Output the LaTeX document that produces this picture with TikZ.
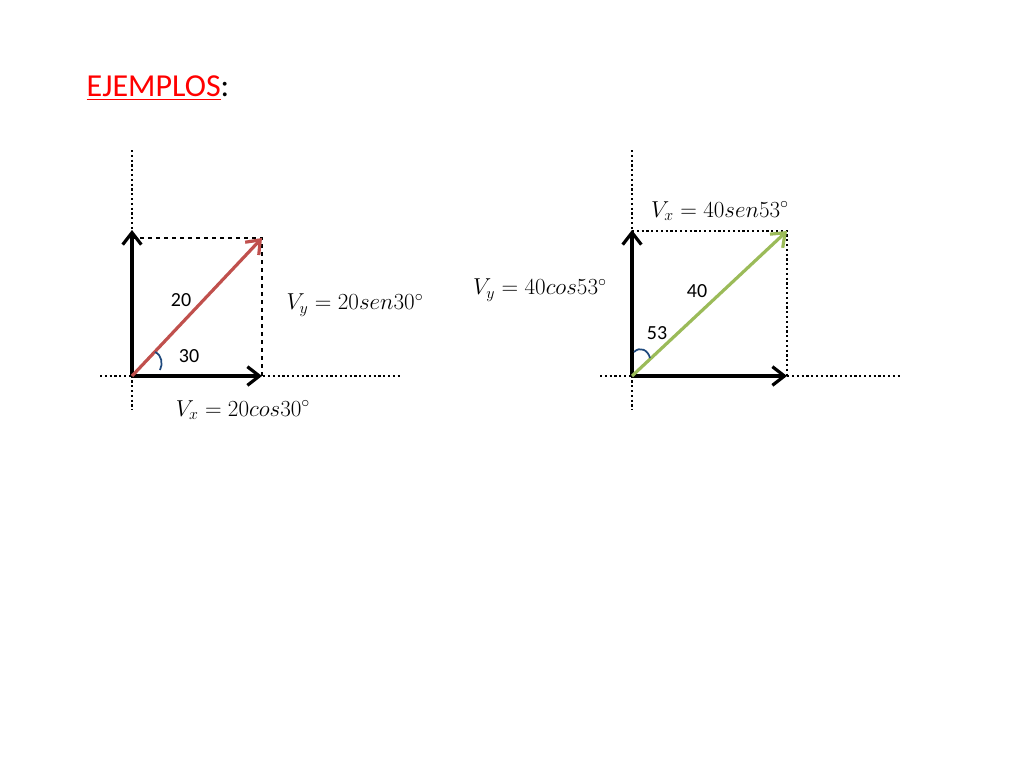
\documentclass[tikz,border=0pt]{standalone}
\usepackage{fontspec}
\setmainfont{Carlito}
\usetikzlibrary{arrows.meta}
\begin{document}
\begin{tikzpicture}[x=0.75pt,y=-0.75pt,
 axis/.style={dotted,line width=1.6pt},
 comp/.style={line width=2.4pt,-{Straight Barb[length=9pt,width=14pt]}},
 res/.style={line width=2.4pt,-{Straight Barb[length=9pt,width=14pt]}},
 lbl/.style={font=\fontsize{15}{17}\selectfont},
 eq/.style={font=\fontsize{17}{20}\selectfont}]
\useasboundingbox (0,0) rectangle (1024,768);
\node[anchor=west,text=red,font=\fontsize{24}{28}\selectfont] (title) at (82,88) {\underline{EJEMPLOS}\textcolor{black}{:}};
% left
\coordinate (O1) at (132,376);
\coordinate (x1) at (262,376);
\coordinate (y1) at (132,230);
\coordinate (t1) at (262,238);
\draw[axis] (132,150) coordinate (a1) -- (132,410) coordinate (a2);
\draw[axis] (100,376) coordinate (a3) -- (400,376) coordinate (a4);
\draw[dashed,line width=1.6pt] (132,238) -- (t1) -- (262,376);
\draw[comp] (O1) -- (x1);
\draw[comp] (O1) -- (y1);
\draw[res,draw={rgb,255:red,192;green,80;blue,77}] (O1) -- (t1);
\draw[line width=1.3pt,draw={rgb,255:red,31;green,73;blue,125}] (155,352) .. controls (162,355) and (163,364) .. (160,370);
\node[lbl] (n20) at (181,300) {20};
\node[lbl] (n30) at (189,356) {30};
\node[eq] (vy1) at (355,305) {$V_y = 20sen30^\circ$};
\node[eq] (vx1) at (243,410) {$V_x = 20cos30^\circ$};
% right
\coordinate (O2) at (632,376);
\coordinate (x2) at (787,376);
\coordinate (y2) at (632,230);
\coordinate (t2) at (787,231);
\draw[axis] (632,150) -- (632,410);
\draw[axis] (600,376) -- (900,376);
\draw[dotted,line width=1.6pt] (632,231) -- (t2) -- (787,376);
\draw[comp] (O2) -- (x2);
\draw[comp] (O2) -- (y2);
\draw[res,draw={rgb,255:red,155;green,187;blue,89}] (O2) -- (t2);
\draw[line width=1.3pt,draw={rgb,255:red,31;green,73;blue,125}] (634,352) .. controls (640,346) and (648,350) .. (650,358);
\node[lbl] (n40) at (697,291) {40};
\node[lbl] (n53) at (657,333) {53};
\node[eq] (vx2) at (720,211) {$V_x = 40sen53^\circ$};
\node[eq] (vy2) at (540,290) {$V_y = 40cos53^\circ$};
\end{tikzpicture}
\end{document}
